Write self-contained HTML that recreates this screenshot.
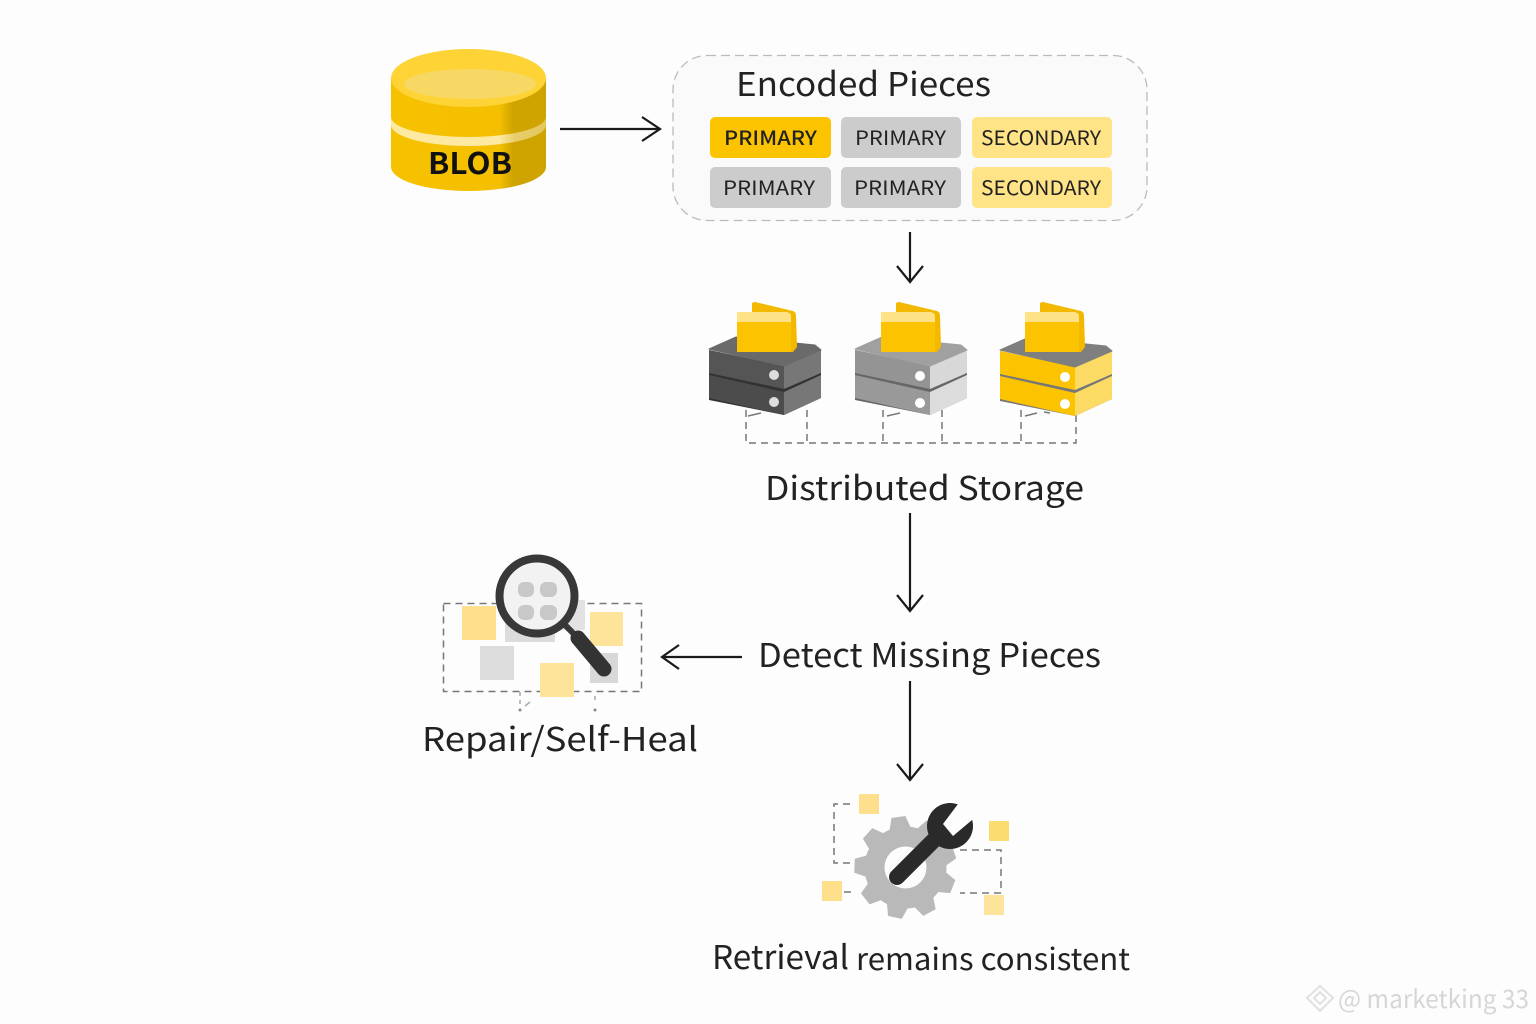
<!DOCTYPE html>
<html><head><meta charset="utf-8"><style>
html,body{margin:0;padding:0;background:#fdfdfd}
svg{display:block}
text{font-family:"Noto Sans CJK SC","DejaVu Sans","Liberation Sans",sans-serif;fill:#222}
.l{font-size:33px}.c{font-size:20px}
.d{fill:none;stroke:#777;stroke-width:1.5;stroke-dasharray:7 5}
.a{fill:none;stroke:#1a1a1a;stroke-width:2.200}
</style></head><body>
<svg width="1536" height="1024" viewBox="0 0 1536 1024" xmlns="http://www.w3.org/2000/svg">
<defs>
<linearGradient id="cy" x1="0" x2="1" y1="0" y2="0"><stop offset="0" stop-color="#f6c200"/><stop offset=".7" stop-color="#f3bf00"/><stop offset=".79" stop-color="#cfa300"/><stop offset="1" stop-color="#cfa300"/></linearGradient>
<linearGradient id="bd" x1="0" x2="1" y1="0" y2="0"><stop offset="0" stop-color="#fde9a0"/><stop offset=".7" stop-color="#fde9a0"/><stop offset=".8" stop-color="#e8cd6a"/><stop offset="1" stop-color="#e2c860"/></linearGradient>
<g id="folder">
<path d="M752 312 V304 Q752 302 755 302 L793 311 Q796 312 796 316 L797 347 L793 352 H752Z" fill="#f2b900"/>
<path d="M737 352 V312 H786 Q791 312 791 317 V352Z" fill="#fcc400"/>
<path d="M737 322 V312 H786 Q791 312 791 317 V322Z" fill="#fde287"/>
</g>
</defs>
<rect width="1536" height="1024" fill="#fdfdfd"/>

<!-- cylinder -->
<path d="M391 78 V167 A77.500 24 0 0 0 546 167 V78Z" fill="url(#cy)"/>
<path d="M391 117 A77.500 20 0 0 0 546 117 V125 A77.500 21 0 0 1 391 125Z" fill="url(#bd)"/>
<ellipse cx="468.500" cy="78" rx="77.500" ry="29" fill="#fdd335"/>
<ellipse cx="470" cy="84" rx="66" ry="15" fill="#f8d865"/>
<text x="428" y="174" font-size="30" font-weight="700" style="fill:#111" textLength="84" lengthAdjust="spacingAndGlyphs">BLOB</text>

<path class="a" d="M560 129 H660 M642 117 L660 129 L642 141"/>

<!-- Encoded Pieces -->
<rect x="673" y="55.500" width="474" height="165" rx="34" fill="#fafafa" stroke="#bbb" stroke-width="1.300" stroke-dasharray="9 5"/>
<text class="l" x="736" y="96" textLength="255" lengthAdjust="spacingAndGlyphs">Encoded Pieces</text>
<rect x="710" y="117" width="121" height="41" rx="5" fill="#fcc400"/>
<rect x="841" y="117" width="120" height="41" rx="5" fill="#cccccc"/>
<rect x="972" y="117" width="140" height="41" rx="5" fill="#fee487"/>
<rect x="710" y="167" width="121" height="41" rx="5" fill="#cccccc"/>
<rect x="841" y="167" width="120" height="41" rx="5" fill="#cccccc"/>
<rect x="972" y="167" width="140" height="41" rx="5" fill="#fee487"/>
<text class="c" x="724" y="145" textLength="93" lengthAdjust="spacingAndGlyphs" font-weight="500">PRIMARY</text>
<text class="c" x="855" y="145" textLength="91" lengthAdjust="spacingAndGlyphs">PRIMARY</text>
<text class="c" x="981" y="145" textLength="120" lengthAdjust="spacingAndGlyphs">SECONDARY</text>
<text class="c" x="723" y="195" textLength="92" lengthAdjust="spacingAndGlyphs">PRIMARY</text>
<text class="c" x="854" y="195" textLength="92" lengthAdjust="spacingAndGlyphs">PRIMARY</text>
<text class="c" x="981" y="195" textLength="120" lengthAdjust="spacingAndGlyphs">SECONDARY</text>

<path class="a" d="M910 232 V282 M897 266 L910 282 L923 266"/>

<!-- dashed under servers -->
<path class="d" d="M746 410 V443 H1076 V412 M807 410 V443 M883 410 V443 M942 410 V443 M1021 410 V443"/>
<path d="M748 416 L761 413 M887 416 L900 413 M1025 416 L1037 413 M1044 412 L1050 413" stroke="#777" stroke-width="1.500" fill="none"/>

<!-- server 1 -->
<g stroke-linejoin="round">
<path d="M709 350 L784 366 L821 350 V398 L784 415 L709 400Z" fill="#333"/>
<path d="M709 375 L784 392 V415 L709 398Z" fill="#4c4c4c"/>
<path d="M784 392 L821 375 V398 L784 415Z" fill="#777"/>
<path d="M709 350 L784 366 V389 L709 373Z" fill="#555"/>
<path d="M784 366 L821 350 V373 L784 389Z" fill="#777"/>
<path d="M709 349 L736 337 L815 345 L821 350 L784 366Z" fill="#6a6a6a" stroke="#6a6a6a" stroke-width="1"/>
<circle cx="774" cy="375" r="5" fill="#ddd"/><circle cx="774" cy="402" r="5" fill="#ddd"/>
</g>
<use href="#folder"/>
<!-- server 2 -->
<g transform="translate(146 0)" stroke-linejoin="round">
<path d="M709 350 L784 366 L821 350 V398 L784 415 L709 400Z" fill="#666"/>
<path d="M709 375 L784 392 V415 L709 398Z" fill="#999"/>
<path d="M784 392 L821 375 V398 L784 415Z" fill="#dcdcdc"/>
<path d="M709 350 L784 366 V389 L709 373Z" fill="#949494"/>
<path d="M784 366 L821 350 V373 L784 389Z" fill="#d8d8d8"/>
<path d="M709 349 L736 337 L815 345 L821 350 L784 366Z" fill="#a0a0a0" stroke="#a0a0a0" stroke-width="1"/>
<circle cx="774" cy="376" r="5" fill="#fff"/><circle cx="774" cy="403" r="5" fill="#fff"/>
</g>
<use href="#folder" transform="translate(144 0)"/>
<!-- server 3 -->
<g transform="translate(291 1)" stroke-linejoin="round">
<path d="M709 350 L784 366 L821 350 V398 L784 415 L709 400Z" fill="#777"/>
<path d="M709 375 L784 392 V415 L709 398Z" fill="#fcc400"/>
<path d="M784 392 L821 375 V398 L784 415Z" fill="#fbdb63"/>
<path d="M709 350 L784 366 V389 L709 373Z" fill="#fcc400"/>
<path d="M784 366 L821 350 V373 L784 389Z" fill="#fbdb63"/>
<path d="M709 349 L736 337 L815 345 L821 350 L784 366Z" fill="#7f7f7f" stroke="#7f7f7f" stroke-width="1"/>
<circle cx="774" cy="376" r="5" fill="#fff"/><circle cx="774" cy="403" r="5" fill="#fff"/>
</g>
<use href="#folder" transform="translate(288 0)"/>

<text class="l" x="765" y="500" textLength="319" lengthAdjust="spacingAndGlyphs">Distributed Storage</text>
<path class="a" d="M910 513 V611 M897 595 L910 611 L923 595"/>

<!-- repair -->
<rect x="443.500" y="603.500" width="198" height="88" fill="none" stroke="#777" stroke-width="1.500" stroke-dasharray="7 5"/>
<path d="M520 692 V704 M595 696 V704" fill="none" stroke="#aaa" stroke-width="1.500" stroke-dasharray="4 4"/>
<circle cx="520" cy="710" r="1.500" fill="#888"/><circle cx="595" cy="710" r="1.500" fill="#888"/>
<path d="M530 702 L525 706" stroke="#aaa" stroke-width="1.500"/>
<rect x="505" y="600" width="50" height="42" fill="#dcdcdc"/>
<rect x="560" y="600" width="25" height="30" fill="#e2e2e2"/>
<rect x="462" y="606" width="34" height="34" fill="#fee08c"/>
<rect x="590" y="612" width="33" height="34" fill="#fee39a"/>
<rect x="480" y="646" width="34" height="34" fill="#dcdcdc"/>
<rect x="590" y="653" width="28" height="30" fill="#d8d8d8"/>
<rect x="540" y="663" width="34" height="34" fill="#fee39a"/>
<circle cx="537" cy="596" r="37.500" fill="#f2f2f2" stroke="#383838" stroke-width="8"/>
<rect x="518" y="582" width="16" height="15" rx="6" fill="#c8c8c8"/>
<rect x="540" y="582" width="17" height="15" rx="6" fill="#c8c8c8"/>
<rect x="518" y="605" width="16" height="15" rx="6" fill="#c8c8c8"/>
<rect x="540" y="605" width="17" height="15" rx="6" fill="#c8c8c8"/>
<path d="M565 625 L578 638" stroke="#383838" stroke-width="6" fill="none"/>
<path d="M578 638 L604 669" stroke="#333" stroke-width="15" stroke-linecap="round" fill="none"/>
<text class="l" x="422" y="751" textLength="276" lengthAdjust="spacingAndGlyphs">Repair/Self-Heal</text>

<path class="a" d="M742 657 H662 M679 645 L662 657 L679 669"/>
<text class="l" x="758" y="667" textLength="343" lengthAdjust="spacingAndGlyphs">Detect Missing Pieces</text>
<path class="a" d="M910 681 V780 M897 764 L910 780 L923 764"/>

<!-- gear -->
<path class="d" d="M850 804 H834 V863 H851 M960 850 H1001 V893 H960 M851 892 H842"/>
<rect x="859" y="794" width="20" height="20" fill="#fee08c"/>
<rect x="989" y="821" width="20" height="20" fill="#fbdc70"/>
<rect x="822" y="881" width="20" height="20" fill="#fee08c"/>
<rect x="984" y="895" width="20" height="20" fill="#fee39a"/>
<g fill="#b9b9b9" transform="translate(905.500 867.500)">
<circle r="41"/>
<path d="M-11 -38 L-7 -51 H7 L11 -38Z" transform="rotate(-8)"/>
<path d="M-11 -38 L-7 -51 H7 L11 -38Z" transform="rotate(32)"/>
<path d="M-11 -38 L-7 -51 H7 L11 -38Z" transform="rotate(72)"/>
<path d="M-11 -38 L-7 -51 H7 L11 -38Z" transform="rotate(112)"/>
<path d="M-11 -38 L-7 -51 H7 L11 -38Z" transform="rotate(152)"/>
<path d="M-11 -38 L-7 -51 H7 L11 -38Z" transform="rotate(192)"/>
<path d="M-11 -38 L-7 -51 H7 L11 -38Z" transform="rotate(232)"/>
<path d="M-11 -38 L-7 -51 H7 L11 -38Z" transform="rotate(272)"/>
<path d="M-11 -38 L-7 -51 H7 L11 -38Z" transform="rotate(312)"/>
<circle r="21" fill="#fdfdfd"/>
</g>
<path d="M897 877 L938 836" stroke="#2a2a2a" stroke-width="16" stroke-linecap="round" fill="none"/>
<circle cx="950" cy="826" r="23" fill="#2a2a2a"/>
<path d="M961 800 L943 824 L953 836 L978 815 L982 798Z" fill="#fdfdfd"/>

<text x="712" y="969" class="l" textLength="137" lengthAdjust="spacingAndGlyphs">Retrieval</text>
<text x="856" y="970" font-size="30" textLength="274" lengthAdjust="spacingAndGlyphs">remains consistent</text>

<!-- watermark -->
<g fill="none" stroke="#e0e0e0" stroke-width="2"><path d="M1320 986 L1333 998 L1320 1011 L1307 998Z M1320 992 L1326 998 L1320 1004 L1314 998Z"/></g>
<text x="1338" y="1008" font-size="25" style="fill:#d6d6d6" textLength="191" lengthAdjust="spacingAndGlyphs">@ marketking 33</text>
</svg>
</body></html>
